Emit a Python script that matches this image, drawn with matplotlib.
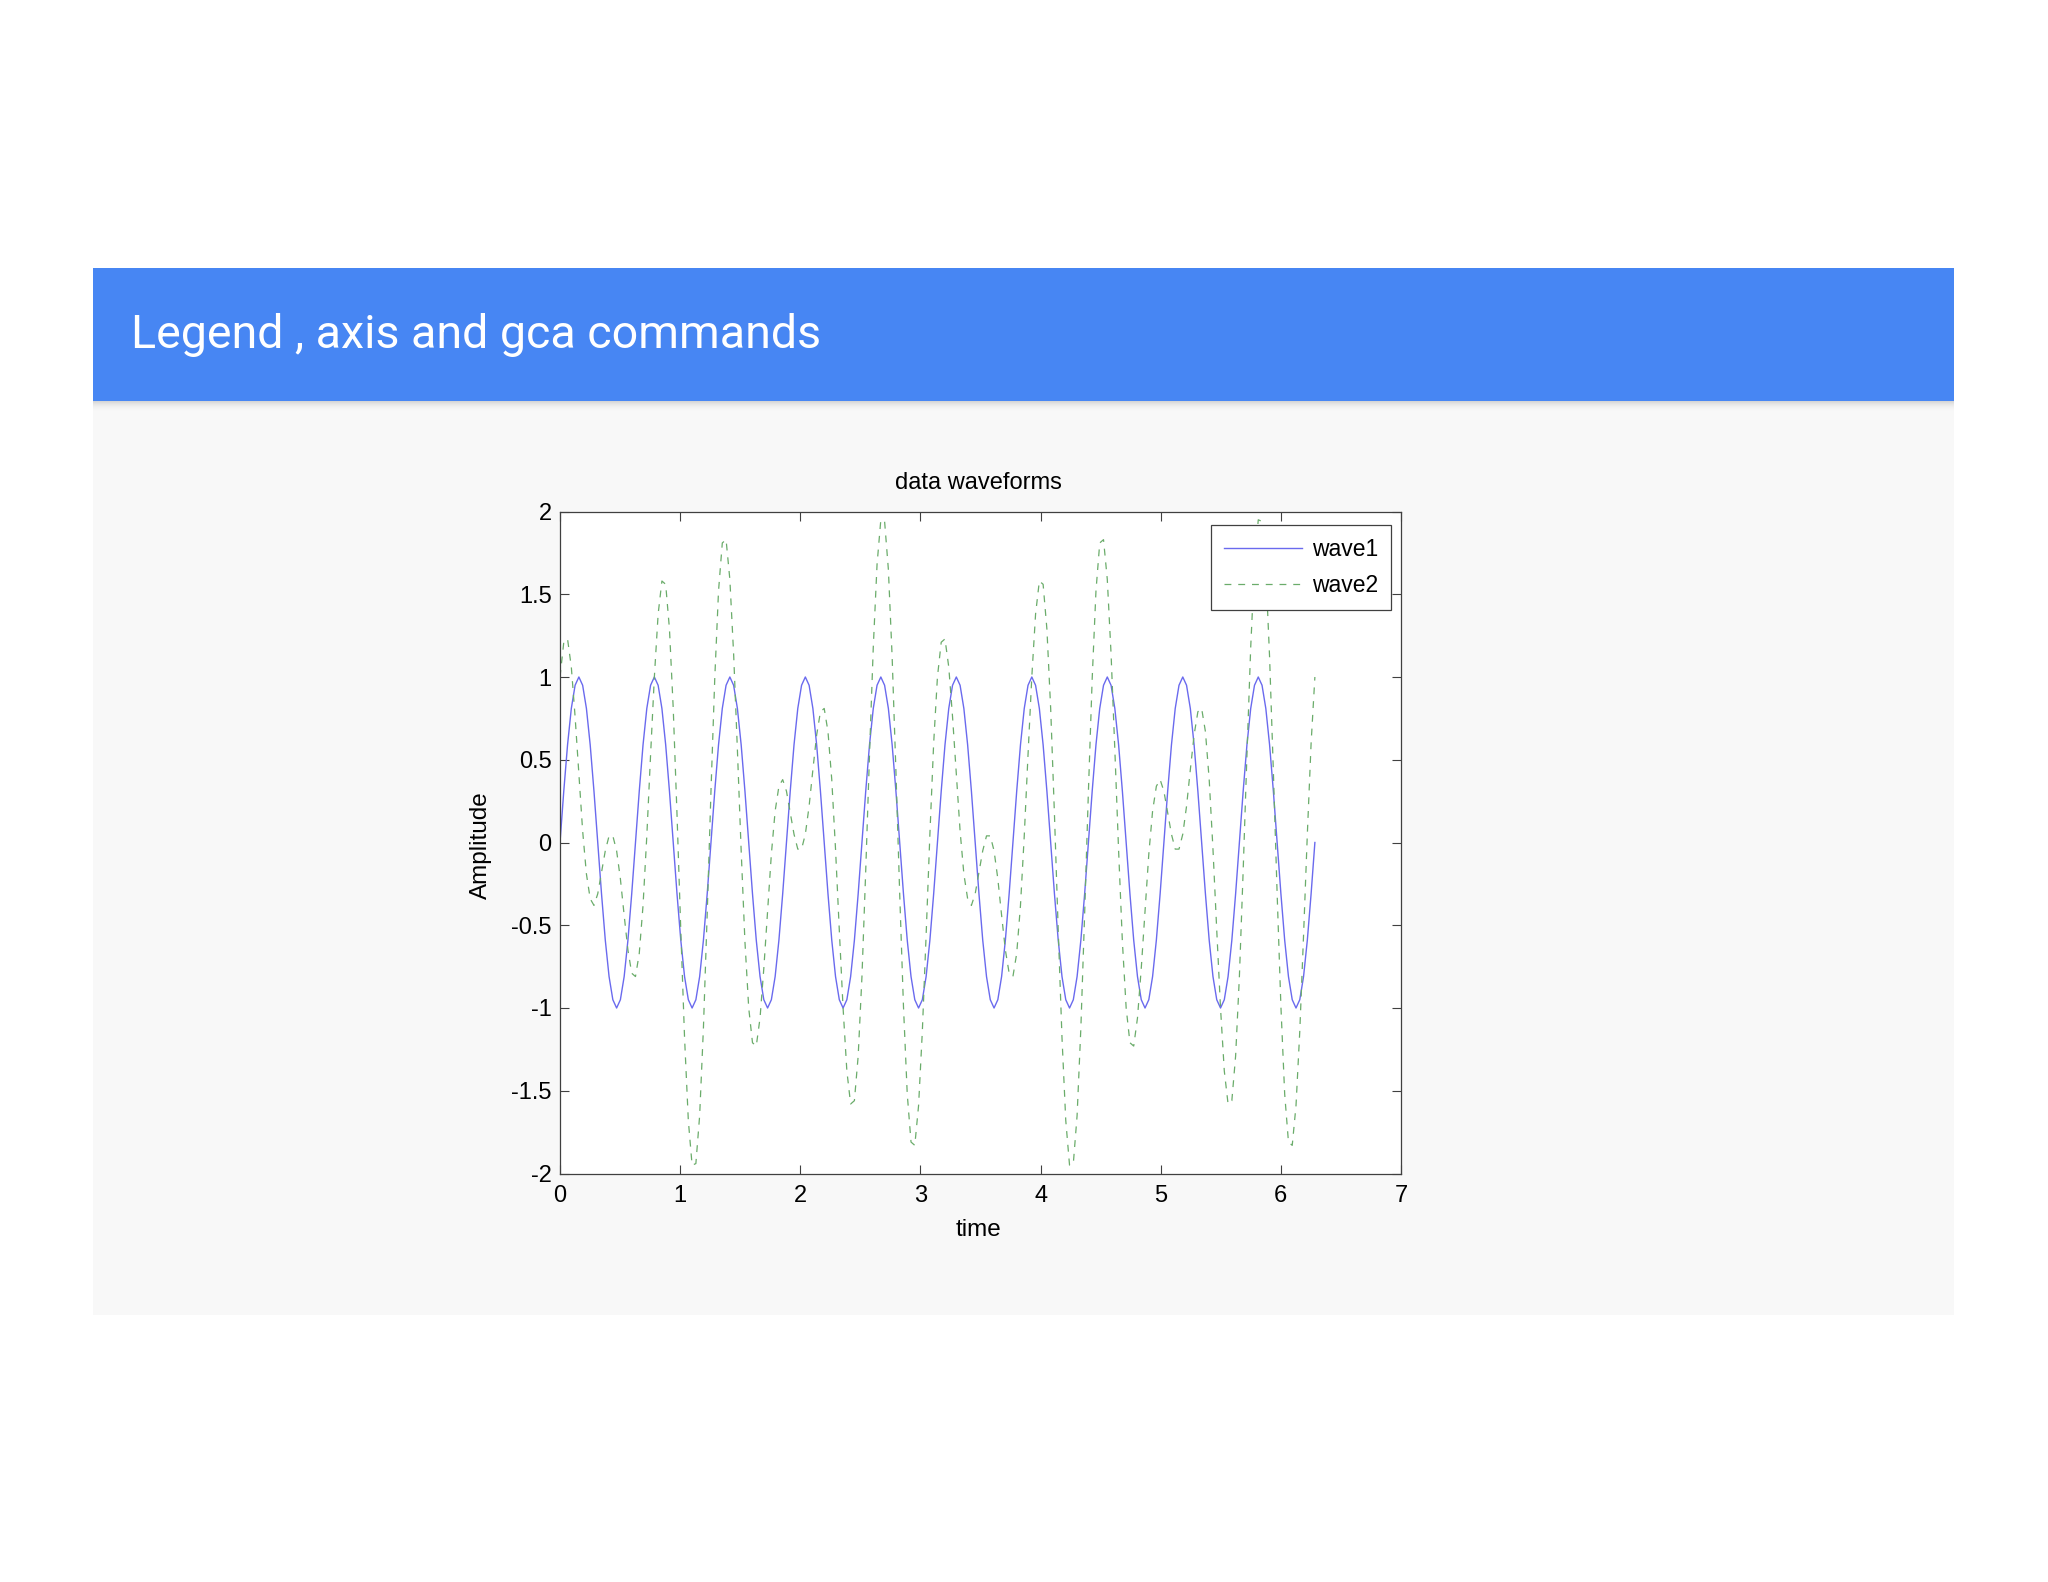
import numpy as np
import matplotlib.pyplot as plt
from matplotlib.patches import Rectangle

plt.rcParams['font.family'] = ['Liberation Sans', 'DejaVu Sans']
plt.rcParams['axes.unicode_minus'] = False

# text on the slide
slide_title = 'Legend , axis and gca commands'
chart_title = 'data waveforms'
x_label = 'time'
y_label = 'Amplitude'
series_names = ['wave1', 'wave2']

x_ticks = [0, 1, 2, 3, 4, 5, 6, 7]
y_ticks = [-2, -1.5, -1, -0.5, 0, 0.5, 1, 1.5, 2]
y_tick_labels = ['-2', '-1.5', '-1', '-0.5', '0', '0.5', '1', '1.5', '2']

# 201 samples from 0 to 2*pi
time = np.linspace(0, 2 * np.pi, 201)

wave1 = [
    0, 0.31, 0.59, 0.81, 0.95, 1, 0.95, 0.81, 0.59, 0.31, 0, -0.31, -0.59, -0.81, -0.95, -1, -0.95, -0.81, -0.59, -0.31,
    0, 0.31, 0.59, 0.81, 0.95, 1, 0.95, 0.81, 0.59, 0.31, 0, -0.31, -0.59, -0.81, -0.95, -1, -0.95, -0.81, -0.59, -0.31,
    0, 0.31, 0.59, 0.81, 0.95, 1, 0.95, 0.81, 0.59, 0.31, 0, -0.31, -0.59, -0.81, -0.95, -1, -0.95, -0.81, -0.59, -0.31,
    0, 0.31, 0.59, 0.81, 0.95, 1, 0.95, 0.81, 0.59, 0.31, 0, -0.31, -0.59, -0.81, -0.95, -1, -0.95, -0.81, -0.59, -0.31,
    0, 0.31, 0.59, 0.81, 0.95, 1, 0.95, 0.81, 0.59, 0.31, 0, -0.31, -0.59, -0.81, -0.95, -1, -0.95, -0.81, -0.59, -0.31,
    0, 0.31, 0.59, 0.81, 0.95, 1, 0.95, 0.81, 0.59, 0.31, 0, -0.31, -0.59, -0.81, -0.95, -1, -0.95, -0.81, -0.59, -0.31,
    0, 0.31, 0.59, 0.81, 0.95, 1, 0.95, 0.81, 0.59, 0.31, 0, -0.31, -0.59, -0.81, -0.95, -1, -0.95, -0.81, -0.59, -0.31,
    0, 0.31, 0.59, 0.81, 0.95, 1, 0.95, 0.81, 0.59, 0.31, 0, -0.31, -0.59, -0.81, -0.95, -1, -0.95, -0.81, -0.59, -0.31,
    0, 0.31, 0.59, 0.81, 0.95, 1, 0.95, 0.81, 0.59, 0.31, 0, -0.31, -0.59, -0.81, -0.95, -1, -0.95, -0.81, -0.59, -0.31,
    0, 0.31, 0.59, 0.81, 0.95, 1, 0.95, 0.81, 0.59, 0.31, 0, -0.31, -0.59, -0.81, -0.95, -1, -0.95, -0.81, -0.59, -0.31,
    0,
]

wave2 = [
    1.00, 1.21, 1.23, 1.06, 0.76, 0.41, 0.07, -0.19, -0.34, -0.38,
    -0.31, -0.18, -0.05, 0.04, 0.04, -0.05, -0.22, -0.44, -0.65, -0.79,
    -0.81, -0.67, -0.38, 0.04, 0.53, 1.00, 1.38, 1.58, 1.56, 1.29,
    0.81, 0.17, -0.53, -1.18, -1.68, -1.95, -1.94, -1.65, -1.12, -0.43,
    0.31, 0.99, 1.52, 1.81, 1.83, 1.59, 1.14, 0.56, -0.05, -0.60,
    -1.00, -1.21, -1.23, -1.06, -0.76, -0.41, -0.07, 0.19, 0.34, 0.38,
    0.31, 0.18, 0.05, -0.04, -0.04, 0.05, 0.22, 0.44, 0.65, 0.79,
    0.81, 0.67, 0.38, -0.04, -0.53, -1.00, -1.38, -1.58, -1.56, -1.29,
    -0.81, -0.17, 0.53, 1.18, 1.68, 1.95, 1.94, 1.65, 1.12, 0.43,
    -0.31, -0.99, -1.52, -1.81, -1.83, -1.59, -1.14, -0.56, 0.05, 0.60,
    1.00, 1.21, 1.23, 1.06, 0.76, 0.41, 0.07, -0.19, -0.34, -0.38,
    -0.31, -0.18, -0.05, 0.04, 0.04, -0.05, -0.22, -0.44, -0.65, -0.79,
    -0.81, -0.67, -0.38, 0.04, 0.53, 1.00, 1.38, 1.58, 1.56, 1.29,
    0.81, 0.17, -0.53, -1.18, -1.68, -1.95, -1.94, -1.65, -1.12, -0.43,
    0.31, 0.99, 1.52, 1.81, 1.83, 1.59, 1.14, 0.56, -0.05, -0.60,
    -1.00, -1.21, -1.23, -1.06, -0.76, -0.41, -0.07, 0.19, 0.34, 0.38,
    0.31, 0.18, 0.05, -0.04, -0.04, 0.05, 0.22, 0.44, 0.65, 0.79,
    0.81, 0.67, 0.38, -0.04, -0.53, -1.00, -1.38, -1.58, -1.56, -1.29,
    -0.81, -0.17, 0.53, 1.18, 1.68, 1.95, 1.94, 1.65, 1.12, 0.43,
    -0.31, -0.99, -1.52, -1.81, -1.83, -1.59, -1.14, -0.56, 0.05, 0.60,
    1.00,
]

W, H = 2048, 1582
fig = plt.figure(figsize=(W / 100, H / 100), dpi=100)
fig.patch.set_facecolor('white')

def fx(px):
    return px / W

def fy(py):
    return 1 - py / H

# slide panel, header bar and its shadow
fig.patches.append(Rectangle((fx(93), fy(1315)), fx(1954) - fx(93), fy(401) - fy(1315),
                             transform=fig.transFigure, facecolor='#f8f8f8', edgecolor='none', zorder=0))
for i in range(10):
    fig.patches.append(Rectangle((fx(93), fy(402 + i)), fx(1954) - fx(93), 1 / H,
                                 transform=fig.transFigure, facecolor='#888888',
                                 alpha=0.30 * (1 - i / 10) ** 2, edgecolor='none', zorder=0))
fig.patches.append(Rectangle((fx(93), fy(401)), fx(1954) - fx(93), fy(268) - fy(401),
                             transform=fig.transFigure, facecolor='#4786f3', edgecolor='none', zorder=1))
fig.text(fx(131), fy(348), slide_title, color='white', fontsize=33.5,
         family=['Roboto', 'DejaVu Sans'], ha='left', va='baseline')

ax = fig.add_axes([fx(560), fy(1173.5), fx(1401) - fx(560), fy(511.5) - fy(1173.5)])
ax.set_zorder(5)
ax.set_facecolor('white')
ax.plot(time, wave1, color='#6a6aee', lw=1.0, label=series_names[0])
ax.plot(time, wave2, color='#6aac6a', lw=0.9, ls=(0, (5.5, 5.5)), label=series_names[1])

ax.set_xlim(0, 7)
ax.set_ylim(-2, 2)
ax.set_xticks(x_ticks)
ax.set_xticklabels([str(v) for v in x_ticks])
ax.set_yticks(y_ticks)
ax.set_yticklabels(y_tick_labels)
ax.tick_params(direction='in', length=6.5, width=0.8, color='#404040',
               top=True, right=True, labelsize=17, pad=6)
ax.tick_params(axis='x', pad=8.5)
for sp in ax.spines.values():
    sp.set_color('#404040')
    sp.set_linewidth(0.9)

fig.text(fx(978), fy(489), chart_title, fontsize=17, ha='center', va='baseline')
fig.text(fx(978), fy(1236), x_label, fontsize=17.5, ha='center', va='baseline')
fig.text(fx(481), fy(845), y_label, fontsize=17.5, ha='center', va='center', rotation=90)

leg = ax.legend(loc='upper right', bbox_to_anchor=((1390.7 - 560) / 841, (1173.5 - 525) / 662),
                borderaxespad=0, fontsize=16.5, fancybox=False, framealpha=1,
                edgecolor='#404040', handlelength=3.4, handletextpad=0.45,
                borderpad=0.55, labelspacing=0.6)
leg.get_frame().set_linewidth(0.9)

fig.savefig('out.png', dpi=100, facecolor='white')
